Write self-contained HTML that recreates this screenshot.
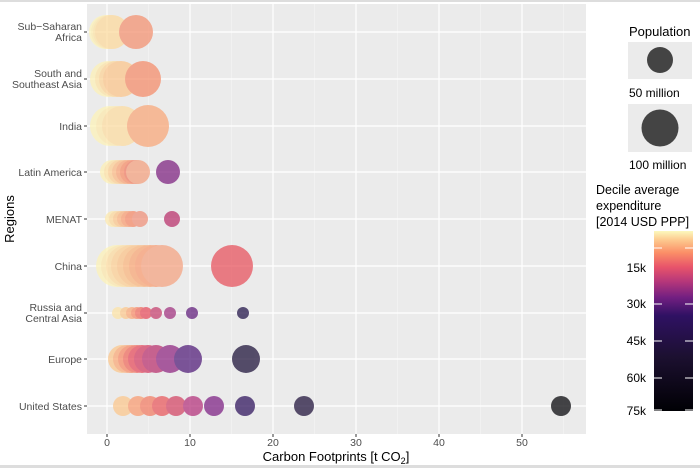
<!DOCTYPE html>
<html><head><meta charset="utf-8"><style>body{margin:0;background:#fff}svg{display:block;font-family:"Liberation Sans",sans-serif}</style></head><body>
<svg width="700" height="468" xmlns="http://www.w3.org/2000/svg">
<defs><linearGradient id="g" x1="0" y1="0" x2="0" y2="1">
<stop offset="0" stop-color="#fcf9bd"/><stop offset="0.05" stop-color="#fdc98e"/><stop offset="0.12" stop-color="#fb8f67"/><stop offset="0.2" stop-color="#e8546a"/><stop offset="0.28" stop-color="#b6377a"/><stop offset="0.37" stop-color="#721f81"/><stop offset="0.47" stop-color="#2f1163"/><stop offset="0.7" stop-color="#1c1030"/><stop offset="1" stop-color="#000004"/></linearGradient></defs>
<rect x="0" y="0" width="700" height="468" fill="#fff"/>
<rect x="0" y="0" width="700" height="2" fill="#ddd"/>
<rect x="0" y="465" width="700" height="3" fill="#ddd"/>
<rect x="87" y="4" width="499" height="430" fill="#ebebeb"/>
<g stroke="#f5f5f5" stroke-width="0.6">
<line x1="148.5" y1="4" x2="148.5" y2="434"/><line x1="231.5" y1="4" x2="231.5" y2="434"/><line x1="314.5" y1="4" x2="314.5" y2="434"/><line x1="397.5" y1="4" x2="397.5" y2="434"/><line x1="480.5" y1="4" x2="480.5" y2="434"/><line x1="563.5" y1="4" x2="563.5" y2="434"/></g>
<g stroke="#fff" stroke-width="1.2">
<line x1="107" y1="4" x2="107" y2="434"/><line x1="190" y1="4" x2="190" y2="434"/><line x1="273" y1="4" x2="273" y2="434"/><line x1="356" y1="4" x2="356" y2="434"/><line x1="439" y1="4" x2="439" y2="434"/><line x1="522" y1="4" x2="522" y2="434"/>
<line x1="87" y1="32" x2="586" y2="32"/><line x1="87" y1="79" x2="586" y2="79"/><line x1="87" y1="126" x2="586" y2="126"/><line x1="87" y1="172" x2="586" y2="172"/><line x1="87" y1="219" x2="586" y2="219"/><line x1="87" y1="266" x2="586" y2="266"/><line x1="87" y1="313" x2="586" y2="313"/><line x1="87" y1="359" x2="586" y2="359"/><line x1="87" y1="406" x2="586" y2="406"/></g>
<g opacity="0.72">
<!-- Sub-Saharan Africa -->
<circle cx="106" cy="32" r="17" fill="#fdf4b8"/><circle cx="108" cy="32" r="17" fill="#fdecae"/><circle cx="110" cy="32" r="17" fill="#fde3a5"/><circle cx="112" cy="32" r="17" fill="#fdda9c"/><circle cx="136" cy="32" r="17" fill="#f4906f"/>
<!-- South & SE Asia -->
<circle cx="108" cy="79" r="18" fill="#fdf1b6"/><circle cx="113" cy="79" r="18" fill="#fde3a5"/><circle cx="117" cy="79" r="18" fill="#fdd396"/><circle cx="121" cy="79" r="18" fill="#fcc58a"/><circle cx="143" cy="79" r="18" fill="#f58b68"/>
<!-- India -->
<circle cx="110" cy="126" r="20" fill="#fdf3b7"/><circle cx="116" cy="126" r="20" fill="#fde9ac"/><circle cx="122" cy="126" r="20" fill="#fddca0"/><circle cx="148" cy="126" r="21" fill="#f9a677"/>
<!-- Latin America -->
<circle cx="112" cy="172" r="12" fill="#fdf0b4"/><circle cx="116" cy="172" r="12" fill="#fde0a2"/><circle cx="120" cy="172" r="12" fill="#fdce92"/><circle cx="124" cy="172" r="12" fill="#fcb983"/><circle cx="128" cy="172" r="12" fill="#faa374"/><circle cx="132" cy="172" r="12" fill="#f78c66"/><circle cx="136" cy="172" r="12" fill="#f07a62"/><circle cx="138" cy="172" r="12" fill="#f4a07d"/><circle cx="168" cy="172" r="12" fill="#7c1f7e"/>
<!-- MENAT -->
<circle cx="113" cy="219" r="8" fill="#fde9ac"/><circle cx="117" cy="219" r="8" fill="#fdd89a"/><circle cx="121" cy="219" r="8" fill="#fcc58a"/><circle cx="125" cy="219" r="8" fill="#fbb07c"/><circle cx="129" cy="219" r="8" fill="#f99b6f"/><circle cx="133" cy="219" r="8" fill="#f68866"/><circle cx="140" cy="219" r="8" fill="#f08f78"/><circle cx="172" cy="219" r="8" fill="#b82e6a"/>
<!-- China -->
<circle cx="117" cy="266" r="21" fill="#fdf3b7"/><circle cx="122" cy="266" r="21" fill="#fde7aa"/><circle cx="127" cy="266" r="21" fill="#fddb9e"/><circle cx="132" cy="266" r="21" fill="#fdce92"/><circle cx="138" cy="266" r="21" fill="#fcc287"/><circle cx="144" cy="266" r="21" fill="#fbb47c"/><circle cx="150" cy="266" r="21" fill="#faa573"/><circle cx="156" cy="266" r="21" fill="#f99b70"/><circle cx="162" cy="266" r="21" fill="#f6a280"/><circle cx="232" cy="266" r="21" fill="#e8505a"/>
<!-- Russia -->
<circle cx="118" cy="313" r="6" fill="#fde3a5"/><circle cx="126" cy="313" r="6" fill="#fcc78b"/><circle cx="132" cy="313" r="6" fill="#fba876"/><circle cx="137" cy="313" r="6" fill="#f88a66"/><circle cx="141" cy="313" r="6" fill="#f06a5c"/><circle cx="146" cy="313" r="6" fill="#e64a5a"/><circle cx="156" cy="313" r="6" fill="#c53e6c"/><circle cx="170" cy="313" r="6" fill="#a0307e"/><circle cx="192" cy="313" r="6" fill="#5e1a7a"/><circle cx="243" cy="313" r="6" fill="#1e0f45"/>
<!-- Europe -->
<circle cx="122" cy="359" r="14" fill="#fcc78b"/><circle cx="127" cy="359" r="14" fill="#fba876"/><circle cx="132" cy="359" r="14" fill="#f88a66"/><circle cx="137" cy="359" r="14" fill="#f06a5c"/><circle cx="142" cy="359" r="14" fill="#e64a5a"/><circle cx="148" cy="359" r="14" fill="#d33a60"/><circle cx="156" cy="359" r="14" fill="#b92e6d"/><circle cx="170" cy="359" r="14" fill="#8d2380"/><circle cx="188" cy="359" r="14" fill="#4f1a78"/><circle cx="246" cy="359" r="14" fill="#1a0e36"/>
<!-- United States -->
<circle cx="123" cy="406" r="10" fill="#fcc78b"/><circle cx="138" cy="406" r="10" fill="#f99a6f"/><circle cx="150" cy="406" r="10" fill="#f37a61"/><circle cx="162" cy="406" r="10" fill="#e9565a"/><circle cx="176" cy="406" r="10" fill="#d34363"/><circle cx="193" cy="406" r="10" fill="#b3307a"/><circle cx="214" cy="406" r="10" fill="#7b1d82"/><circle cx="245" cy="406" r="10" fill="#2c0f5a"/><circle cx="304" cy="406" r="10" fill="#1c0e38"/><circle cx="561" cy="406" r="10" fill="#000004"/>
</g>
<g stroke="#333" stroke-width="1"><line x1="84" y1="32" x2="87" y2="32"/><line x1="84" y1="79" x2="87" y2="79"/><line x1="84" y1="126" x2="87" y2="126"/><line x1="84" y1="172" x2="87" y2="172"/><line x1="84" y1="219" x2="87" y2="219"/><line x1="84" y1="266" x2="87" y2="266"/><line x1="84" y1="313" x2="87" y2="313"/><line x1="84" y1="359" x2="87" y2="359"/><line x1="84" y1="406" x2="87" y2="406"/>
<line x1="107" y1="434" x2="107" y2="437"/><line x1="190" y1="434" x2="190" y2="437"/><line x1="273" y1="434" x2="273" y2="437"/><line x1="356" y1="434" x2="356" y2="437"/><line x1="439" y1="434" x2="439" y2="437"/><line x1="522" y1="434" x2="522" y2="437"/></g>
<g font-size="10.5" fill="#4d4d4d" text-anchor="end">
<text x="82" y="30">Sub−Saharan</text><text x="82" y="41">Africa</text>
<text x="82" y="77">South and</text><text x="82" y="88">Southeast Asia</text>
<text x="82" y="130">India</text><text x="82" y="176">Latin America</text><text x="82" y="223">MENAT</text><text x="82" y="270">China</text>
<text x="82" y="311">Russia and</text><text x="82" y="322">Central Asia</text>
<text x="82" y="363">Europe</text><text x="82" y="410">United States</text></g>
<g font-size="10.5" fill="#4d4d4d" text-anchor="middle">
<text x="107" y="446">0</text><text x="190" y="446">10</text><text x="273" y="446">20</text><text x="356" y="446">30</text><text x="439" y="446">40</text><text x="522" y="446">50</text></g>
<text x="336" y="461" font-size="13" text-anchor="middle" fill="#000">Carbon Footprints [t CO<tspan font-size="9" dy="3">2</tspan><tspan dy="-3">]</tspan></text>
<text transform="translate(14,219) rotate(-90)" font-size="13" text-anchor="middle" fill="#000">Regions</text>
<text x="629" y="36" font-size="13" fill="#000">Population</text>
<rect x="628" y="42" width="64" height="37" fill="#ebebeb"/><circle cx="660" cy="60" r="13" fill="#444"/>
<text x="629" y="97" font-size="12" fill="#000">50 million</text>
<rect x="628" y="104" width="64" height="48" fill="#ebebeb"/><circle cx="660" cy="128" r="18.5" fill="#444"/>
<text x="629" y="169" font-size="12" fill="#000">100 million</text>
<text x="596" y="194" font-size="12.5" fill="#000">Decile average</text>
<text x="596" y="210" font-size="12.5" fill="#000">expenditure</text>
<text x="596" y="226" font-size="12.5" fill="#000">[2014 USD PPP]</text>
<rect x="654" y="231" width="39" height="180" fill="url(#g)"/>
<g stroke="#fff" stroke-width="1"><line x1="654" y1="248" x2="662" y2="248"/><line x1="685" y1="248" x2="693" y2="248"/><line x1="654" y1="304" x2="662" y2="304"/><line x1="685" y1="304" x2="693" y2="304"/><line x1="654" y1="341" x2="662" y2="341"/><line x1="685" y1="341" x2="693" y2="341"/><line x1="654" y1="378" x2="662" y2="378"/><line x1="685" y1="378" x2="693" y2="378"/><line x1="654" y1="410" x2="662" y2="410"/><line x1="685" y1="410" x2="693" y2="410"/></g>
<g font-size="12" fill="#000" text-anchor="end"><text x="646" y="272">15k</text><text x="646" y="308">30k</text><text x="646" y="345">45k</text><text x="646" y="382">60k</text><text x="646" y="415">75k</text></g>
</svg>
</body></html>
